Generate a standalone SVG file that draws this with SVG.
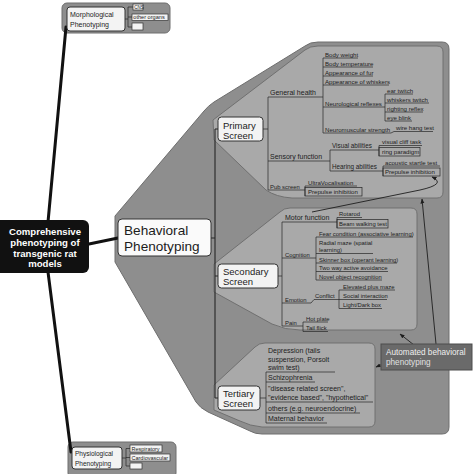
<svg xmlns="http://www.w3.org/2000/svg" width="474" height="474" viewBox="0 0 474 474">
<style>
.t{font-family:"Liberation Sans",Arial,sans-serif;fill:#1c1c1c}
.l1{font-size:7px}
.l1s{font-size:6.3px}
.lf{font-size:6.1px}
.sf{font-size:5.9px}
.tf{font-size:7px}
.scr{font-size:9.5px}
.ln{stroke:#262626;stroke-width:0.7;fill:none}
.bx{fill:none;stroke:#262626;stroke-width:0.7}
.thick{stroke:#111;stroke-width:3;fill:none;stroke-linecap:round}
.box{fill:#f3f3f3;stroke:#333;stroke-width:1}
.panel{fill:#a9a9a9;stroke:#6b6b6b;stroke-width:0.9}
.outer{fill:#8e8e8e;stroke:#6e6e6e;stroke-width:1}
.arr{stroke:#1e1e1e;stroke-width:0.9;fill:none}
.small{fill:#f3f3f3;stroke:#333;stroke-width:0.7}
</style>
<defs>
<marker id="ah" viewBox="0 0 10 10" refX="9" refY="5" markerWidth="5" markerHeight="5" markerUnits="userSpaceOnUse" orient="auto">
<path d="M0,1 L10,5 L0,9 Z" fill="#1e1e1e"/>
</marker>
</defs>
<rect width="474" height="474" fill="#ffffff"/>

<!-- background panels -->
<g id="panels">
<path class="outer" d="M115,262 L115,216 L204,111 Q208,106 214,102 L305,46 Q310,42 318,42 L442,42 Q449,42 449,49 L449,427 Q449,434 442,434 L262,434 Q255,434 250,431 L208,412 Q200,408 196,402 Z"/>
<path class="panel" d="M213,120 L305,50 Q310,46 318,46 L437,46 Q443,46 443,52 L443,192 Q443,198 437,198 L292,198 Q276,197 266,190 L214,140 Z"/>
<path class="panel" d="M214,264 L280,212 Q284,208 290,208 L411,208 Q417,208 417,214 L417,324 Q417,330 411,330 L300,330 Q285,330 272,324 L214,292 Z"/>
<path class="panel" d="M214,385 L255,347 Q259,343 265,343 L369,343 Q375,343 375,349 L375,421 Q375,427 369,427 L262,427 Q250,426 240,421 L214,410 Z"/>
<rect x="62" y="3" width="108" height="30" rx="5" fill="#8e8e8e" stroke="#6e6e6e"/>
<rect x="68" y="442" width="108" height="36" rx="5" fill="#8e8e8e" stroke="#6e6e6e"/>
</g>

<g id="connectors">
<path class="thick" d="M48,222 L66,27"/>
<path class="thick" d="M48,272 L71,452"/>
<path class="thick" d="M89,244 L118,238"/>
<path class="ln" style="stroke-width:1.1" d="M211,238 H215 M215,129 V398 M215,129 H218 M215,276 H218 M215,398 H218"/>
<!-- morph / phys brackets -->
<path class="ln" d="M125,19 H128 M128,7 V27 H132 M128,7 H133 M128,17 H132"/>
<path class="ln" d="M122,458 H126 M126,448.5 V466 H130 M126,448.5 H130 M126,457.5 H130"/>
<!-- primary -->
<path class="ln" d="M263,129 H268 M268,97 V190 M268,97 H323 M268,161 H330 M268,190 H305"/>
<path class="ln" d="M323,58 V133 M323,58 H358 M323,67 H373 M323,76 H373 M323,85 H389 M323,107 H385 M323,133 H391 L394,131.5 H433"/>
<path class="ln" d="M385,94 V121 M385,94 H413 M385,103 H429 M385,112 H423 M385,121 H412"/>
<path class="ln" d="M330,150 V171 M330,150 H379 M330,171 H383"/>
<path class="ln" d="M379,145.5 V156 M379,145.5 H422"/>
<rect class="bx" x="379" y="147.5" width="41" height="8.5"/>
<path class="ln" d="M383,166 V176 M383,166 H440"/>
<rect class="bx" x="383" y="168" width="57" height="8"/>
<path class="ln" d="M305,186 V196 M305,186 H357"/>
<rect class="bx" x="305" y="187.5" width="57" height="8.5"/>
<!-- secondary -->
<path class="ln" d="M278,276 H282 M282,222 V326 M282,222 H337 M337,217.5 V228 M337,217.5 H362"/>
<rect class="bx" x="337" y="219.5" width="51" height="8.5"/>
<path class="ln" d="M282,258 H316 M316,237 V280 M316,237 H413 M316,253.5 H373 M316,263 H397 M316,271.5 H388 M316,280 H382"/>
<path class="ln" d="M282,303 H311 L314,299.5 H339 M339,290 V308.5 M339,290 H395 M339,299.5 H387 M339,308.5 H382"/>
<path class="ln" d="M282,326 H303 M303,322 V331.5 M303,322 H328 M303,331.5 H328"/>
<!-- tertiary -->
<path class="ln" d="M260,398 H266 M266,372 V423 M266,372 H335 M266,382 H315 M266,402 H373 M266,413 H360 M266,423 H327"/>
<!-- arrows -->
<path class="arr" d="M383,364 L376,367" marker-end="url(#ah)"/>
<path class="arr" d="M414,345 L400,334" marker-end="url(#ah)"/>
<path class="arr" d="M436,344 L422,199" marker-end="url(#ah)"/>
<path class="arr" d="M312,212 L420,190 Q447,184 432,177" marker-end="url(#ah)"/>
</g>

<g id="root">
<rect x="-6" y="220" width="95" height="53" rx="6" fill="#111"/>
<g font-family="'Liberation Sans',Arial,sans-serif" font-weight="bold" font-size="9.6" fill="#fff" text-anchor="middle">
<text x="45" y="235">Comprehensive</text>
<text x="45" y="245.5">phenotyping of</text>
<text x="45" y="256.5">transgenic rat</text>
<text x="45" y="267">models</text>
</g>
</g>

<g id="morph">
<rect class="box" x="67" y="7" width="58" height="24" rx="3"/>
<text class="t" x="70" y="16.5" font-size="7">Morphological</text>
<text class="t" x="70" y="26.5" font-size="7">Phenotyping</text>
<rect class="small" x="133" y="4" width="10" height="6"/>
<text class="t" x="134.3" y="9" font-size="4.5">CNS</text>
<rect class="small" x="132" y="14" width="36" height="6.5"/>
<text class="t" x="133.3" y="19.3" font-size="5.6">other organs</text>
<rect class="small" x="132" y="23" width="11" height="7"/>
</g>

<g id="phys">
<rect class="box" x="72" y="447" width="50" height="22" rx="3"/>
<text class="t" x="75" y="456" font-size="6.5">Physiological</text>
<text class="t" x="75" y="466" font-size="6.5">Phenotyping</text>
<rect class="small" x="130" y="445" width="32" height="7"/>
<text class="t" x="131.5" y="450.7" font-size="5.5">Respiratory</text>
<rect class="small" x="130" y="454" width="40" height="7"/>
<text class="t" x="131.5" y="459.7" font-size="5.5">Cardiovascular</text>
<rect class="small" x="130" y="463" width="12" height="6"/>
</g>

<g id="behav">
<rect x="118" y="219" width="93" height="37" rx="4" fill="#fafafa" stroke="#333"/>
<text class="t" x="124" y="234.5" font-size="13.6">Behavioral</text>
<text class="t" x="124" y="251" font-size="13.6">Phenotyping</text>
</g>

<g id="primary">
<rect class="box" x="218" y="117" width="45" height="24" rx="3.5"/>
<text class="t scr" x="223" y="128.5">Primary</text>
<text class="t scr" x="223" y="139">Screen</text>
<text class="t l1" x="270" y="95">General health</text>
<text class="t l1" x="270" y="159">Sensory function</text>
<text class="t sf" x="270" y="188.5">Pub screen</text>
<text class="t lf" x="325" y="56.5">Body weight</text>
<text class="t lf" x="325" y="65.5">Body temperature</text>
<text class="t lf" x="325" y="74.5">Appearance of fur</text>
<text class="t lf" x="325" y="83.5">Appearance of whiskers</text>
<text class="t lf" x="325" y="105.5">Neurological reflexes</text>
<text class="t lf" x="325" y="131.5">Neuromuscular strength</text>
<text class="t lf" x="396" y="130">wire hang test</text>
<text class="t lf" x="387" y="92.5">ear twitch</text>
<text class="t lf" x="387" y="101.5">whiskers twitch</text>
<text class="t lf" x="387" y="110.5">righting reflex</text>
<text class="t lf" x="387" y="119.5">eye blink</text>
<text class="t l1s" x="332" y="148">Visual abilities</text>
<text class="t l1s" x="332" y="169">Hearing abilities</text>
<text class="t lf" x="382" y="144">visual cliff task</text>
<text class="t lf" x="382" y="154">ring paradigm</text>
<text class="t lf" x="385" y="164.5">acoustic startle test</text>
<text class="t lf" x="385" y="174">Prepulse inhibition</text>
<text class="t lf" x="308" y="184.5">UltraVocalisation</text>
<text class="t lf" x="308" y="194">Prepulse inhibition</text>
</g>

<g id="secondary">
<rect class="box" x="218" y="264" width="60" height="24" rx="3.5"/>
<text class="t scr" x="223" y="274.5">Secondary</text>
<text class="t scr" x="223" y="285">Screen</text>
<text class="t l1" x="285" y="220">Motor function</text>
<text class="t sf" x="339" y="216">Rotarod</text>
<text class="t sf" x="339" y="226">Beam walking test</text>
<text class="t sf" x="285" y="256.5">Cognition</text>
<text class="t sf" x="319" y="235.5">Fear condition (associative learning)</text>
<text class="t sf" x="319" y="244.5">Radial maze (spatial</text>
<text class="t sf" x="319" y="252">learning)</text>
<text class="t sf" x="319" y="261.5">Skinner box (operant learning)</text>
<text class="t sf" x="319" y="270">Two way active avoidance</text>
<text class="t sf" x="319" y="278.5">Novel object recognition</text>
<text class="t sf" x="285" y="301.5">Emotion</text>
<text class="t sf" x="315" y="298">Conflict</text>
<text class="t sf" x="343" y="288.5">Elevated plus maze</text>
<text class="t sf" x="343" y="298">Social interaction</text>
<text class="t sf" x="343" y="307">Light/Dark box</text>
<text class="t sf" x="285" y="324.5">Pain</text>
<text class="t sf" x="306" y="320.5">Hot plate</text>
<text class="t sf" x="306" y="330">Tail flick</text>
</g>

<g id="tertiary">
<rect class="box" x="218" y="386" width="42" height="24" rx="3.5"/>
<text class="t scr" x="223" y="396.5">Tertiary</text>
<text class="t scr" x="223" y="407">Screen</text>
<text class="t tf" x="268" y="353">Depression (tails</text>
<text class="t tf" x="268" y="361.5">suspension, Porsolt</text>
<text class="t tf" x="268" y="370">swim test)</text>
<text class="t tf" x="268" y="380">Schizophrenia</text>
<text class="t tf" x="268" y="391">"disease related screen",</text>
<text class="t tf" x="268" y="400">"evidence based", "hypothetical"</text>
<text class="t tf" x="268" y="411">others (e.g. neuroendocrine)</text>
<text class="t tf" x="268" y="421">Maternal behavior</text>
</g>

<g id="automated">
<rect x="381" y="344" width="91" height="26" fill="#6a6a6a" stroke="#4c4c4c"/>
<text x="386" y="355" font-family="'Liberation Sans',Arial,sans-serif" font-size="8.2" fill="#efefef">Automated behavioral</text>
<text x="386" y="364.5" font-family="'Liberation Sans',Arial,sans-serif" font-size="8.2" fill="#e0e0e0">phenotyping</text>
</g>
</svg>
